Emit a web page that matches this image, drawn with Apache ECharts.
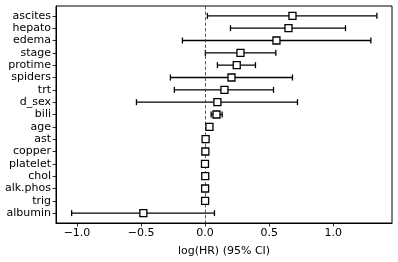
<!DOCTYPE html>
<html><head><meta charset="utf-8">
<script src="https://cdn.jsdelivr.net/npm/echarts@6/dist/echarts.min.js"></script>
<style>html,body{margin:0;padding:0;background:#fff}#c{width:398px;height:262px}</style>
</head><body><div id="c"></div>
<script>
var categories = ['ascites','hepato','edema','stage','protime','spiders','trt','d_sex','bili','age','ast','copper','platelet','chol','alk.phos','trig','albumin'];
var logHR = [0.682, 0.651, 0.557, 0.276, 0.247, 0.206, 0.151, 0.096, 0.089, 0.034, 0.004, 0.002, -0.001, 0.001, 0.000, 0.000, -0.482];
var ciLower = [0.018, 0.198, -0.177, 0.002, 0.096, -0.271, -0.240, -0.536, 0.047, 0.018, 0.001, 0.000, -0.003, 0.000, 0.000, -0.002, -1.042];
var ciUpper = [1.341, 1.096, 1.294, 0.552, 0.393, 0.682, 0.534, 0.721, 0.133, 0.052, 0.007, 0.004, 0.001, 0.002, 0.000, 0.002, 0.073];
var xTicks = [-1.0, -0.5, 0.0, 0.5, 1.0];

var idx = categories.map(function(_, i){ return i; });
var barData = idx.map(function(i){ return [i, ciLower[i], ciUpper[i]]; });
var ptData = idx.map(function(i){ return [logHR[i], i]; });

var chart = echarts.init(document.getElementById('c'), null, {renderer:'canvas'});
var font = 'DejaVu Sans';
chart.setOption({
  animation:false,
  grid:{left:56, right:6, top:6, bottom:38, show:true, borderColor:'#000', borderWidth:1, backgroundColor:'transparent'},
  xAxis:{type:'value', min:-1.164, max:1.459,
    name:'log(HR) (95% CI)', nameLocation:'middle', nameGap:23,
    nameTextStyle:{color:'#000', fontSize:11, fontFamily:font},
    axisLine:{show:true, onZero:false, lineStyle:{color:'#000', width:1}},
    axisTick:{show:true, length:3.5, customValues:xTicks, lineStyle:{color:'#000', width:0.8}},
    axisLabel:{customValues:xTicks, color:'#000', fontSize:11, fontFamily:font, margin:5,
      formatter:function(v){ return (v<0?'\u2212':'') + Math.abs(v).toFixed(1); }},
    splitLine:{show:false}},
  yAxis:{type:'value', min:-0.8, max:16.8, inverse:true,
    axisLine:{show:true, onZero:false, lineStyle:{color:'#000', width:1}},
    axisTick:{show:true, length:3.5, customValues:idx, lineStyle:{color:'#000', width:0.8}},
    axisLabel:{customValues:idx, color:'#000', fontSize:11, fontFamily:font, margin:5,
      formatter:function(v){ return categories[Math.round(v)] || ''; }},
    splitLine:{show:false}},
  series:[
    {type:'custom', data:barData, encode:{x:[1,2], y:0},
     renderItem:function(params, api){
       var y = api.value(0);
       var p1 = api.coord([api.value(1), y]);
       var p2 = api.coord([api.value(2), y]);
       var h = 3;
       var st = {stroke:'#000', lineWidth:1.3};
       return {type:'group', children:[
         {type:'line', shape:{x1:p1[0], y1:p1[1], x2:p2[0], y2:p2[1]}, style:st},
         {type:'line', shape:{x1:p1[0], y1:p1[1]-h, x2:p1[0], y2:p1[1]+h}, style:st},
         {type:'line', shape:{x1:p2[0], y1:p2[1]-h, x2:p2[0], y2:p2[1]+h}, style:st}
       ]};
     },
     markLine:{silent:true, symbol:'none', label:{show:false},
       lineStyle:{color:'#333', type:[3.5,2], width:0.8},
       data:[{xAxis:0}]}
    },
    {type:'scatter', data:ptData, symbol:'rect', symbolSize:7,
     itemStyle:{color:'#fff', borderColor:'#000', borderWidth:1.3, opacity:1}, z:5}
  ]
});
</script></body></html>
